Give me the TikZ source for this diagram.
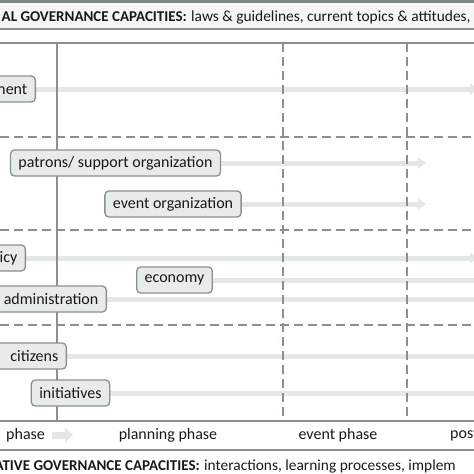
\documentclass[tikz,border=0pt]{standalone}
\definecolor{linegray}{RGB}{138,144,144}
\definecolor{bandgray}{RGB}{125,133,133}
\definecolor{boxgray}{RGB}{232,235,235}
\definecolor{flowgray}{RGB}{228,231,231}
\definecolor{textgray}{RGB}{25,25,25}
\usepackage{fontspec}
\setmainfont{Carlito}
\usepackage{tikz}
\usetikzlibrary{arrows.meta,positioning,calc}
\pgfdeclarelayer{flows}
\pgfdeclarelayer{grid}
\pgfsetlayers{flows,grid,main}

\begin{document}
\begin{tikzpicture}[x=1pt,y=-1pt,font=\fontsize{16}{19}\selectfont,
                box/.style={draw=linegray,fill=boxgray,rounded corners=4pt,line width=1.3pt,
                    minimum height=26pt,inner xsep=8pt,inner ysep=2pt,text=textgray},
                cutbox/.style={box,anchor=east,text width=#1,align=right},
                flow/.style={draw=flowgray,line width=5pt,-{Triangle[length=8pt,width=11pt]}},
                flowline/.style={draw=flowgray,line width=5pt},
                border/.style={draw=linegray,line width=1.8pt},
                divider/.style={draw=linegray,line width=1.6pt,dash pattern=on 9pt off 5pt},
                label/.style={text=textgray,inner sep=0pt},
                banner/.style={label,font=\fontsize{15.4}{18}\selectfont},
                capacity/.style={label,font=\fontsize{15}{18}\selectfont\bfseries}]
                \useasboundingbox (0,0) rectangle (474,474);
                \clip (0,0) rectangle (474,474);
                % banners
                \fill[bandgray] (0,0) rectangle (474,3);
                \fill[white!96!black] (0,3) rectangle (474,29);
                \draw[border] (0,29) -- (474,29);
                \draw[border] (0,43) -- (474,43);
                \draw[border] (0,421) -- (474,421);
                \draw[border] (0,450) -- (474,450);
                % actors
                \node[cutbox=80pt] (media) at (36,89) {ment};
                \node[box] (patrons) at (115.5,163) {patrons/ support organization};
                \node[box] (eventorg) at (173,204) {event organization};
                \node[cutbox=60pt] (policy) at (26,258) {icy};
                \node[box] (economy) at (174.5,280) {economy};
                \node[cutbox=130pt] (admin) at (107,299) {administration};
                \node[cutbox=80pt] (citizens) at (67,356) {citizens};
                \node[box] (initiatives) at (70.5,393) {initiatives};
                % ends of the flows
                \coordinate (media end) at (478,89);
                \coordinate (patrons end) at (426,163);
                \coordinate (eventorg end) at (426,204);
                \coordinate (policy end) at (478,258);
                \coordinate (economy end) at (480,280);
                \coordinate (admin end) at (480,299);
                \coordinate (citizens end) at (480,356);
                \coordinate (initiatives end) at (480,393);
                \begin{pgfonlayer}{flows}
                \draw[flow] (media.east) -- (media end);
                \draw[flow] (patrons.east) -- (patrons end);
                \draw[flow] (eventorg.east) -- (eventorg end);
                \draw[flow] (policy.east) -- (policy end);
                \draw[flowline] (economy.east) -- (economy end);
                \draw[flowline] (admin.east) -- (admin end);
                \draw[flowline] (citizens.east) -- (citizens end);
                \draw[flowline] (initiatives.east) -- (initiatives end);
                \end{pgfonlayer}
                % phases and groups
                \begin{pgfonlayer}{grid}
                \draw[border] (57,43) -- (57,421);
                \draw[divider] (283,43) -- (283,421);
                \draw[divider] (407,43) -- (407,421);
                \foreach \y in {137,230,325}
                    \draw[divider] (0,\y) -- (474,\y);
                \end{pgfonlayer}
                % phase row
                \node[label,anchor=west] (prephase) at (6,435) {phase};
                \coordinate (step start) at (52,435);
                \coordinate (step end) at (73,435);
                \draw[draw=flowgray,line width=7pt,-{Triangle[length=8pt,width=14pt]}] (step start) -- (step end);
                \node[label] (planning) at (168,435) {planning phase};
                \node[label] (eventphase) at (338,435) {event phase};
                \node[label,anchor=west] (postphase) at (450,435) {post};
                % governance capacities
                \node[capacity,anchor=base east] (topcap) at (187,21) {AL GOVERNANCE CAPACITIES:};
                \node[banner,anchor=base west] at (191,21) {laws \& guidelines, current topics \& attitudes,};
                \node[capacity,anchor=base east] (botcap) at (200,470) {ATIVE GOVERNANCE CAPACITIES:};
                \node[banner,anchor=base west] at (204,470) {interactions, learning processes, implem};
\end{tikzpicture}
\end{document}
